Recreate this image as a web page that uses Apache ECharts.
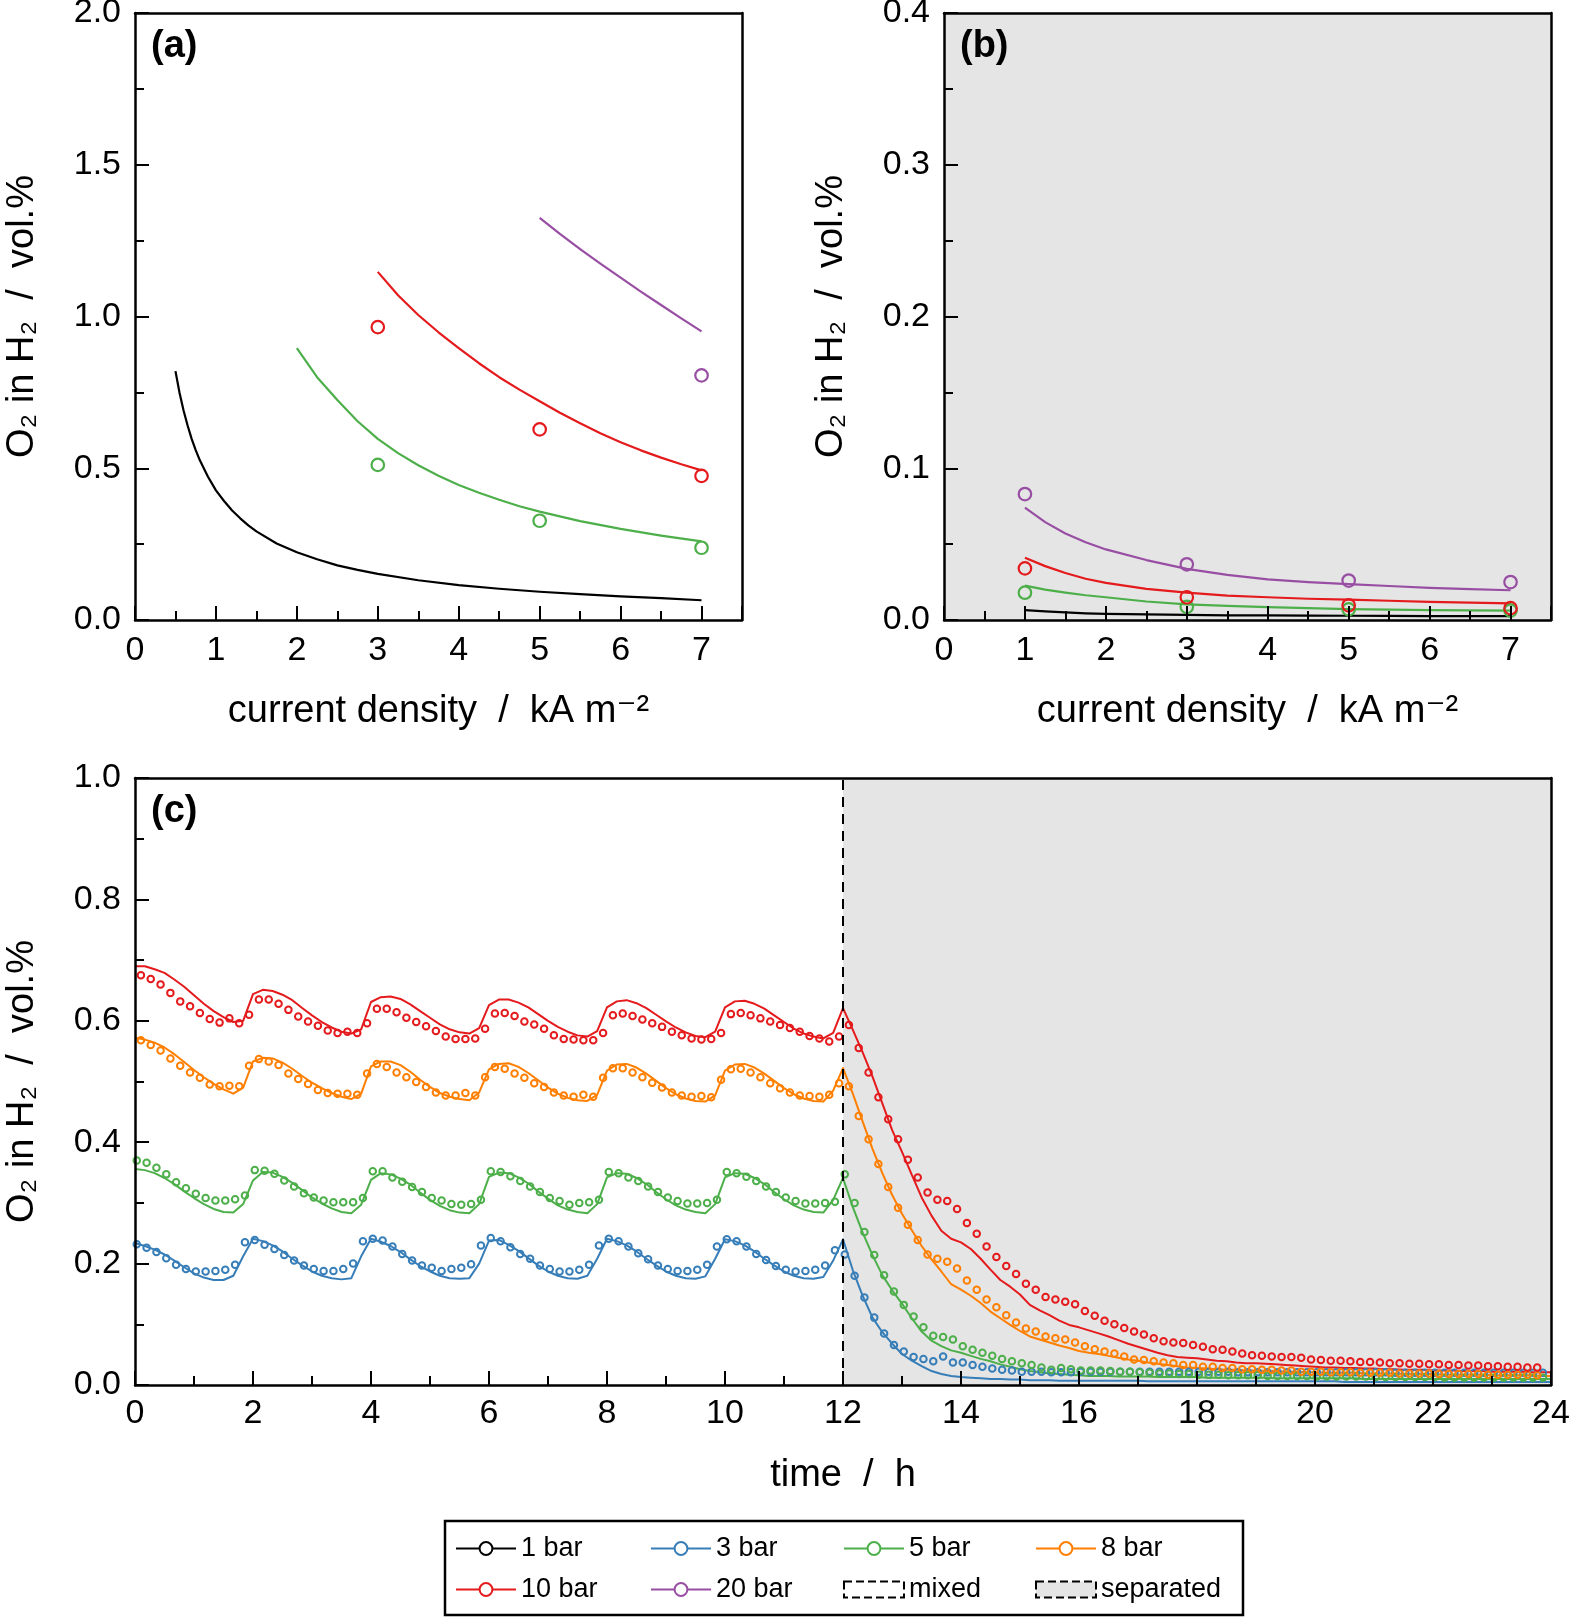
<!DOCTYPE html>
<html>
<head>
<meta charset="utf-8">
<script src="https://cdn.jsdelivr.net/npm/echarts/dist/echarts.min.js"></script>
<style>
  html, body { margin: 0; padding: 0; background: #fff; }
  #main { width: 1570px; height: 1618px; }
</style>
</head>
<body>
<div id="main"></div>
<script>
// colours per pressure
var C1 = '#000000', C3 = '#377eb8', C5 = '#4daf4a', C8 = '#ff7f00', C10 = '#e41a1c', C20 = '#984ea3';
var SHADE = '#e5e5e5';
var FONT = "'Liberation Sans', 'DejaVu Sans', Arial, sans-serif";

// ---- (a) mixed mode, O2 in H2 vs current density ----
var simAx1 = [0.5, 0.55, 0.6, 0.65, 0.7, 0.75, 0.8, 0.9, 1, 1.1, 1.2, 1.3, 1.4, 1.5, 1.75, 2, 2.25, 2.5, 2.75, 3, 3.5, 4, 4.5, 5, 5.5, 6, 6.5, 7];
var simA1 = [0.820, 0.749, 0.690, 0.641, 0.597, 0.560, 0.527, 0.473, 0.427, 0.392, 0.361, 0.335, 0.312, 0.292, 0.252, 0.223, 0.200, 0.180, 0.165, 0.152, 0.131, 0.115, 0.103, 0.093, 0.085, 0.078, 0.072, 0.065];
var simAx5 = [2, 2.25, 2.5, 2.75, 3, 3.25, 3.5, 3.75, 4, 4.25, 4.5, 4.75, 5, 5.5, 6, 6.5, 7];
var simA5 = [0.896, 0.800, 0.725, 0.655, 0.597, 0.550, 0.510, 0.475, 0.445, 0.419, 0.396, 0.375, 0.357, 0.326, 0.300, 0.278, 0.259];
var simAx10 = [3, 3.25, 3.5, 3.75, 4, 4.25, 4.5, 4.75, 5, 5.25, 5.5, 5.75, 6, 6.25, 6.5, 6.75, 7];
var simA10 = [1.147, 1.070, 1.005, 0.948, 0.896, 0.846, 0.800, 0.759, 0.721, 0.683, 0.648, 0.615, 0.586, 0.559, 0.535, 0.513, 0.493];
var simAx20 = [5, 5.25, 5.5, 5.75, 6, 6.25, 6.5, 6.75, 7];
var simA20 = [1.325, 1.272, 1.222, 1.174, 1.128, 1.082, 1.038, 0.994, 0.951];
var expAx = [3, 5, 7];
var expA5 = [0.511, 0.327, 0.238];
var expA10 = [0.965, 0.628, 0.475];
var expAx20 = [7];
var expA20 = [0.806];

// ---- (b) separated mode ----
var simBx = [1, 1.25, 1.5, 1.75, 2, 2.5, 3, 3.5, 4, 4.5, 5, 5.5, 6, 6.5, 7];
var simB1 = [0.0065, 0.0057, 0.0050, 0.0044, 0.0040, 0.0037, 0.0034, 0.0031, 0.0030, 0.0029, 0.0028, 0.0027, 0.0026, 0.0025, 0.0025];
var simB5 = [0.0227, 0.0200, 0.0180, 0.0163, 0.0150, 0.0122, 0.0103, 0.0093, 0.0085, 0.0078, 0.0072, 0.0068, 0.0065, 0.0063, 0.0062];
var simB10 = [0.0410, 0.0355, 0.0310, 0.0272, 0.0245, 0.0205, 0.0180, 0.0160, 0.0150, 0.0140, 0.0134, 0.0127, 0.0120, 0.0115, 0.0110];
var simB20 = [0.0741, 0.0645, 0.0570, 0.0512, 0.0465, 0.0395, 0.0337, 0.0297, 0.0268, 0.0250, 0.0237, 0.0224, 0.0212, 0.0204, 0.0196];
var expBx = [1, 3, 5, 7];
var expB5 = [0.0180, 0.0087, 0.0070, 0.0062];
var expB10 = [0.0340, 0.0150, 0.0097, 0.0078];
var expB20 = [0.0830, 0.0367, 0.0260, 0.0250];

// ---- (c) time series, one value every 10 min ----
var STEP = 1 / 6;
var simStart = 0;
var simC10 = [
  0.690, 0.690, 0.685, 0.679, 0.668, 0.656, 0.642, 0.628, 0.616, 0.606, 0.598, 0.600,
  0.644, 0.651, 0.649, 0.643, 0.634, 0.621, 0.609, 0.598, 0.589, 0.582, 0.579, 0.586,
  0.631, 0.639, 0.640, 0.636, 0.627, 0.616, 0.605, 0.594, 0.586, 0.581, 0.579, 0.588,
  0.626, 0.635, 0.635, 0.630, 0.622, 0.611, 0.600, 0.590, 0.582, 0.576, 0.574, 0.583,
  0.622, 0.632, 0.634, 0.629, 0.621, 0.610, 0.599, 0.589, 0.581, 0.575, 0.573, 0.582,
  0.622, 0.632, 0.633, 0.628, 0.620, 0.609, 0.598, 0.587, 0.579, 0.574, 0.571, 0.580,
  0.621, 0.585, 0.548, 0.508, 0.464, 0.420, 0.384, 0.346, 0.309, 0.279, 0.254, 0.241,
  0.235, 0.224, 0.208, 0.190, 0.173, 0.162, 0.149, 0.132, 0.123, 0.115, 0.106, 0.099,
  0.095, 0.090, 0.085, 0.080, 0.074, 0.068, 0.063, 0.058, 0.053, 0.049, 0.046, 0.045,
  0.044, 0.042, 0.040, 0.039, 0.037, 0.036, 0.036, 0.035, 0.034, 0.033, 0.032, 0.031,
  0.030, 0.029, 0.029, 0.028, 0.028, 0.027, 0.027, 0.026, 0.026, 0.025, 0.025, 0.025,
  0.024, 0.024, 0.024, 0.023, 0.023, 0.023, 0.022, 0.022, 0.022, 0.022, 0.021, 0.021,
  0.021
];
var simC8 = [
  0.572, 0.569, 0.564, 0.556, 0.545, 0.532, 0.519, 0.507, 0.496, 0.487, 0.480, 0.490,
  0.533, 0.539, 0.538, 0.531, 0.521, 0.509, 0.498, 0.489, 0.481, 0.475, 0.471, 0.480,
  0.525, 0.533, 0.533, 0.527, 0.516, 0.503, 0.491, 0.481, 0.475, 0.471, 0.469, 0.482,
  0.520, 0.529, 0.530, 0.524, 0.514, 0.502, 0.490, 0.480, 0.473, 0.469, 0.468, 0.478,
  0.518, 0.528, 0.529, 0.523, 0.513, 0.501, 0.489, 0.479, 0.472, 0.468, 0.467, 0.477,
  0.518, 0.528, 0.529, 0.523, 0.513, 0.501, 0.489, 0.479, 0.472, 0.468, 0.467, 0.485,
  0.522, 0.480, 0.434, 0.389, 0.349, 0.313, 0.282, 0.255, 0.229, 0.207, 0.187, 0.166,
  0.157, 0.147, 0.135, 0.121, 0.110, 0.099, 0.089, 0.080, 0.075, 0.070, 0.065, 0.061,
  0.056, 0.053, 0.051, 0.048, 0.045, 0.042, 0.040, 0.037, 0.035, 0.033, 0.031, 0.029,
  0.028, 0.027, 0.026, 0.025, 0.025, 0.024, 0.024, 0.023, 0.023, 0.022, 0.022, 0.021,
  0.021, 0.020, 0.020, 0.020, 0.020, 0.019, 0.019, 0.019, 0.019, 0.018, 0.018, 0.018,
  0.018, 0.017, 0.017, 0.017, 0.017, 0.017, 0.016, 0.016, 0.016, 0.016, 0.016, 0.015,
  0.015
];
var simC5 = [
  0.356, 0.354, 0.349, 0.341, 0.331, 0.319, 0.308, 0.298, 0.290, 0.285, 0.284, 0.298,
  0.337, 0.351, 0.350, 0.343, 0.333, 0.321, 0.309, 0.299, 0.291, 0.285, 0.283, 0.297,
  0.338, 0.349, 0.347, 0.340, 0.330, 0.317, 0.305, 0.295, 0.288, 0.284, 0.283, 0.298,
  0.343, 0.350, 0.349, 0.342, 0.332, 0.319, 0.307, 0.296, 0.289, 0.285, 0.283, 0.298,
  0.342, 0.349, 0.348, 0.341, 0.331, 0.318, 0.306, 0.296, 0.289, 0.285, 0.283, 0.298,
  0.342, 0.349, 0.348, 0.341, 0.331, 0.318, 0.306, 0.296, 0.289, 0.285, 0.284, 0.305,
  0.341, 0.293, 0.251, 0.214, 0.181, 0.156, 0.134, 0.110, 0.088, 0.073, 0.064, 0.057,
  0.053, 0.048, 0.043, 0.039, 0.034, 0.030, 0.026, 0.023, 0.021, 0.019, 0.018, 0.017,
  0.016, 0.015, 0.015, 0.015, 0.014, 0.014, 0.014, 0.014, 0.013, 0.013, 0.013, 0.013,
  0.013, 0.012, 0.012, 0.012, 0.012, 0.012, 0.012, 0.012, 0.011, 0.011, 0.011, 0.011,
  0.011, 0.011, 0.011, 0.011, 0.011, 0.010, 0.010, 0.010, 0.010, 0.010, 0.010, 0.010,
  0.010, 0.010, 0.010, 0.010, 0.010, 0.010, 0.010, 0.010, 0.010, 0.010, 0.010, 0.010,
  0.010
];
var simC3 = [
  0.234, 0.229, 0.223, 0.215, 0.205, 0.194, 0.184, 0.177, 0.173, 0.173, 0.180, 0.212,
  0.241, 0.237, 0.230, 0.220, 0.208, 0.197, 0.187, 0.180, 0.176, 0.174, 0.176, 0.212,
  0.241, 0.236, 0.229, 0.219, 0.207, 0.196, 0.187, 0.180, 0.176, 0.175, 0.176, 0.200,
  0.238, 0.239, 0.231, 0.221, 0.209, 0.197, 0.187, 0.180, 0.176, 0.175, 0.180, 0.208,
  0.241, 0.237, 0.230, 0.220, 0.208, 0.197, 0.187, 0.180, 0.176, 0.175, 0.179, 0.208,
  0.240, 0.237, 0.230, 0.220, 0.208, 0.197, 0.187, 0.180, 0.176, 0.175, 0.178, 0.205,
  0.240, 0.189, 0.147, 0.111, 0.087, 0.068, 0.051, 0.040, 0.031, 0.023, 0.018, 0.015,
  0.013, 0.012, 0.011, 0.010, 0.010, 0.009, 0.009, 0.008, 0.008, 0.008, 0.007, 0.007,
  0.007, 0.007, 0.007, 0.007, 0.007, 0.007, 0.007, 0.006, 0.006, 0.006, 0.006, 0.006,
  0.006, 0.006, 0.006, 0.006, 0.006, 0.006, 0.006, 0.006, 0.006, 0.006, 0.006, 0.006,
  0.006, 0.006, 0.006, 0.005, 0.005, 0.005, 0.005, 0.005, 0.005, 0.005, 0.005, 0.005,
  0.005, 0.005, 0.005, 0.005, 0.005, 0.005, 0.005, 0.005, 0.005, 0.005, 0.005, 0.005,
  0.005
];

// measured points; red/orange start at 0.1 h, green/blue at 0.03 h
var expStart10 = 0.1, expStart8 = 0.1, expStart5 = 0.03, expStart3 = 0.03;
var expC10 = [
  0.675, 0.669, 0.660, 0.646, 0.632, 0.624, 0.613, 0.603, 0.597, 0.604, 0.596, 0.610,
  0.635, 0.635, 0.628, 0.618, 0.607, 0.599, 0.592, 0.584, 0.580, 0.582, 0.580, 0.596,
  0.620, 0.620, 0.614, 0.605, 0.598, 0.591, 0.583, 0.574, 0.570, 0.570, 0.571, 0.587,
  0.612, 0.613, 0.608, 0.599, 0.594, 0.587, 0.576, 0.570, 0.569, 0.568, 0.568, 0.580,
  0.609, 0.612, 0.608, 0.602, 0.596, 0.590, 0.582, 0.576, 0.571, 0.569, 0.570, 0.580,
  0.611, 0.613, 0.609, 0.604, 0.599, 0.593, 0.588, 0.582, 0.575, 0.571, 0.566, 0.574,
  0.593, 0.555, 0.515, 0.474, 0.438, 0.405, 0.371, 0.342, 0.317, 0.305, 0.303, 0.290,
  0.267, 0.249, 0.228, 0.211, 0.196, 0.183, 0.167, 0.157, 0.145, 0.141, 0.137, 0.133,
  0.122, 0.114, 0.106, 0.100, 0.094, 0.088, 0.083, 0.077, 0.072, 0.070, 0.069, 0.066,
  0.063, 0.059, 0.058, 0.055, 0.052, 0.049, 0.048, 0.047, 0.046, 0.046, 0.045, 0.042,
  0.041, 0.040, 0.040, 0.039, 0.038, 0.038, 0.037, 0.036, 0.036, 0.035, 0.035, 0.034,
  0.034, 0.033, 0.033, 0.032, 0.032, 0.031, 0.031, 0.030, 0.030, 0.029, 0.029
];
var expC8 = [
  0.568, 0.560, 0.551, 0.538, 0.526, 0.515, 0.506, 0.495, 0.492, 0.493, 0.492, 0.526,
  0.537, 0.533, 0.527, 0.513, 0.504, 0.496, 0.486, 0.481, 0.480, 0.480, 0.478, 0.513,
  0.529, 0.524, 0.515, 0.507, 0.499, 0.491, 0.482, 0.477, 0.477, 0.481, 0.477, 0.507,
  0.524, 0.521, 0.513, 0.506, 0.497, 0.491, 0.482, 0.477, 0.475, 0.478, 0.475, 0.506,
  0.522, 0.522, 0.515, 0.507, 0.498, 0.490, 0.482, 0.477, 0.475, 0.476, 0.474, 0.503,
  0.520, 0.521, 0.515, 0.507, 0.497, 0.489, 0.482, 0.477, 0.476, 0.475, 0.478, 0.497,
  0.492, 0.443, 0.405, 0.364, 0.326, 0.292, 0.264, 0.239, 0.215, 0.208, 0.203, 0.192,
  0.172, 0.157, 0.141, 0.128, 0.115, 0.103, 0.093, 0.088, 0.080, 0.077, 0.075, 0.070,
  0.064, 0.059, 0.055, 0.052, 0.047, 0.042, 0.041, 0.039, 0.037, 0.036, 0.033, 0.033,
  0.030, 0.030, 0.028, 0.028, 0.026, 0.026, 0.025, 0.025, 0.024, 0.024, 0.022, 0.022,
  0.022, 0.021, 0.021, 0.021, 0.020, 0.020, 0.020, 0.020, 0.019, 0.019, 0.019, 0.019,
  0.018, 0.018, 0.018, 0.018, 0.018, 0.017, 0.017, 0.017, 0.017, 0.017, 0.016
];
var expC5 = [
  0.370, 0.366, 0.358, 0.347, 0.334, 0.324, 0.315, 0.308, 0.304, 0.304, 0.306, 0.312,
  0.354, 0.353, 0.348, 0.337, 0.327, 0.316, 0.309, 0.304, 0.301, 0.301, 0.301, 0.308,
  0.352, 0.352, 0.342, 0.335, 0.326, 0.318, 0.308, 0.304, 0.298, 0.297, 0.298, 0.305,
  0.352, 0.351, 0.344, 0.336, 0.327, 0.318, 0.308, 0.303, 0.297, 0.300, 0.301, 0.305,
  0.351, 0.349, 0.342, 0.336, 0.327, 0.318, 0.309, 0.303, 0.299, 0.299, 0.300, 0.305,
  0.351, 0.349, 0.343, 0.336, 0.327, 0.318, 0.309, 0.303, 0.299, 0.299, 0.300, 0.302,
  0.347, 0.300, 0.252, 0.214, 0.181, 0.154, 0.132, 0.113, 0.095, 0.081, 0.079, 0.075,
  0.064, 0.058, 0.053, 0.048, 0.043, 0.039, 0.036, 0.033, 0.029, 0.025, 0.028, 0.026,
  0.024, 0.024, 0.024, 0.023, 0.022, 0.022, 0.021, 0.020, 0.019, 0.019, 0.018, 0.018,
  0.017, 0.017, 0.017, 0.016, 0.016, 0.016, 0.016, 0.015, 0.015, 0.015, 0.015, 0.015,
  0.014, 0.014, 0.014, 0.014, 0.014, 0.014, 0.013, 0.013, 0.013, 0.013, 0.013, 0.013,
  0.013, 0.012, 0.012, 0.012, 0.012, 0.012, 0.012, 0.012, 0.012, 0.012, 0.012, 0.012
];
var expC3 = [
  0.232, 0.226, 0.219, 0.209, 0.198, 0.191, 0.187, 0.187, 0.188, 0.190, 0.198, 0.235,
  0.239, 0.231, 0.224, 0.214, 0.205, 0.197, 0.191, 0.188, 0.188, 0.191, 0.200, 0.237,
  0.241, 0.238, 0.228, 0.216, 0.205, 0.197, 0.193, 0.188, 0.191, 0.193, 0.199, 0.230,
  0.242, 0.237, 0.227, 0.216, 0.208, 0.197, 0.191, 0.187, 0.187, 0.190, 0.198, 0.230,
  0.241, 0.237, 0.228, 0.217, 0.207, 0.197, 0.191, 0.188, 0.188, 0.190, 0.198, 0.228,
  0.240, 0.237, 0.228, 0.216, 0.206, 0.196, 0.190, 0.187, 0.188, 0.190, 0.197, 0.222,
  0.215, 0.180, 0.144, 0.111, 0.085, 0.066, 0.055, 0.046, 0.043, 0.039, 0.047, 0.037,
  0.037, 0.033, 0.030, 0.027, 0.025, 0.024, 0.022, 0.022, 0.022, 0.021, 0.021, 0.021,
  0.022, 0.022, 0.022, 0.022, 0.022, 0.022, 0.022, 0.022, 0.022, 0.022, 0.022, 0.022,
  0.022, 0.022, 0.022, 0.022, 0.021, 0.021, 0.021, 0.021, 0.021, 0.021, 0.021, 0.021,
  0.021, 0.021, 0.021, 0.021, 0.021, 0.021, 0.021, 0.021, 0.020, 0.020, 0.020, 0.020,
  0.020, 0.020, 0.020, 0.020, 0.020, 0.020, 0.020, 0.020, 0.020, 0.020, 0.020, 0.020
];

var legendCols = [['1 bar', '10 bar'], ['3 bar', '20 bar'], ['5 bar', 'mixed'], ['8 bar', 'separated']];
var legendColors = { '1 bar': C1, '3 bar': C3, '5 bar': C5, '8 bar': C8, '10 bar': C10, '20 bar': C20 };

function pairs(xs, ys) {
  return xs.map(function (x, i) { return [x, ys[i]]; });
}
function timed(values, start) {
  return values.map(function (v, i) { return [start + i * STEP, v]; });
}

var axisLineStyle = { color: '#000', width: 2.5 };
var tickStyle = { color: '#000', width: 2 };
var tickLabel = { color: '#000', fontSize: 34, fontFamily: FONT };
var nameStyle = { color: '#000', fontSize: 38, fontFamily: FONT };
var yTitle = 'O\u2082 in H\u2082  /  vol.%';
var xTitle = 'current density  /  kA m\u207b\u00b2';

function mainX(grid, max, interval, name, extra) {
  return Object.assign({
    type: 'value', gridIndex: grid, position: 'bottom', min: 0, max: max, interval: interval, z: 5,
    axisLine: { onZero: false, lineStyle: axisLineStyle },
    axisTick: { inside: true, length: 14, lineStyle: tickStyle },
    axisLabel: Object.assign({ margin: 14, formatter: function (v) { return Number.isInteger(v) ? String(v) : ''; } }, tickLabel),
    splitLine: { show: false },
    name: name, nameLocation: 'middle', nameGap: 73, nameTextStyle: nameStyle
  }, extra || {});
}
function minorX(grid, max, interval) {
  return {
    type: 'value', gridIndex: grid, position: 'bottom', min: 0, max: max, interval: interval, z: 5,
    axisLine: { show: false }, axisTick: { inside: true, length: 9, lineStyle: tickStyle },
    axisLabel: { show: false }, splitLine: { show: false }
  };
}
function frameAxis(grid, pos, max) {
  return {
    type: 'value', gridIndex: grid, position: pos, min: 0, max: max, z: 5,
    axisLine: { onZero: false, lineStyle: axisLineStyle }, axisTick: { show: false },
    axisLabel: { show: false }, splitLine: { show: false }
  };
}
function mainY(grid, max, interval) {
  return {
    type: 'value', gridIndex: grid, position: 'left', min: 0, max: max, interval: interval, z: 5,
    axisLine: { onZero: false, lineStyle: axisLineStyle },
    axisTick: { inside: true, length: 14, lineStyle: tickStyle },
    minorTick: { show: true, splitNumber: 2, length: 9, lineStyle: tickStyle },
    axisLabel: Object.assign({ margin: 14, formatter: function (v) { return v.toFixed(1); } }, tickLabel),
    splitLine: { show: false },
    name: yTitle, nameLocation: 'middle', nameRotate: 90, nameGap: 93, nameTextStyle: nameStyle
  };
}

function simLine(xi, yi, data, color, width) {
  return {
    type: 'line', xAxisIndex: xi, yAxisIndex: yi, data: data, symbol: 'none',
    smooth: false, silent: true, z: 2,
    lineStyle: { color: color, width: width, join: 'round' }, itemStyle: { color: color }
  };
}
function expPoints(xi, yi, data, color, size, bw) {
  return {
    type: 'scatter', xAxisIndex: xi, yAxisIndex: yi, data: data, symbol: 'circle', symbolSize: size,
    silent: true, z: 3,
    itemStyle: { color: 'rgba(0,0,0,0)', borderColor: color, borderWidth: bw, opacity: 1 }
  };
}

var series = [];
// legend-only entries
Object.keys(legendColors).forEach(function (name) {
  var c = legendColors[name];
  series.push({ name: name, type: 'line', data: [], symbol: 'emptyCircle', symbolSize: 12,
    itemStyle: { color: c }, lineStyle: { color: c, width: 2 } });
});
series.push({ name: 'mixed', type: 'line', data: [] });
series.push({ name: 'separated', type: 'line', data: [] });

// (a)  xAxis 0..2, yAxis 0..1
series.push(simLine(0, 0, pairs(simAx1, simA1), C1, 2.2));
series.push(simLine(0, 0, pairs(simAx5, simA5), C5, 2.2));
series.push(simLine(0, 0, pairs(simAx10, simA10), C10, 2.2));
series.push(simLine(0, 0, pairs(simAx20, simA20), C20, 2.2));
series.push(expPoints(0, 0, pairs(expAx, expA5), C5, 12.5, 2.2));
series.push(expPoints(0, 0, pairs(expAx, expA10), C10, 12.5, 2.2));
series.push(expPoints(0, 0, pairs(expAx20, expA20), C20, 12.5, 2.2));

// (b)  xAxis 3..5, yAxis 2..3
series.push(simLine(3, 2, pairs(simBx, simB1), C1, 2.2));
series.push(simLine(3, 2, pairs(simBx, simB5), C5, 2.2));
series.push(simLine(3, 2, pairs(simBx, simB10), C10, 2.2));
series.push(simLine(3, 2, pairs(simBx, simB20), C20, 2.2));
series.push(expPoints(3, 2, pairs(expBx, expB5), C5, 12.5, 2.2));
series.push(expPoints(3, 2, pairs(expBx, expB10), C10, 12.5, 2.2));
series.push(expPoints(3, 2, pairs(expBx, expB20), C20, 12.5, 2.2));

// (c)  xAxis 6..7, yAxis 4..5
var blueLine = simLine(6, 4, timed(simC3, simStart), C3, 2);
blueLine.markArea = {
  silent: true, itemStyle: { color: SHADE },
  data: [[{ xAxis: 12 }, { xAxis: 24 }]]
};
blueLine.markLine = {
  silent: true, symbol: ['none', 'none'], label: { show: false },
  lineStyle: { color: '#000', width: 2, type: [10, 7] },
  data: [{ xAxis: 12 }]
};
series.push(blueLine);
series.push(expPoints(6, 4, timed(expC3, expStart3), C3, 6.5, 2));
series.push(simLine(6, 4, timed(simC5, simStart), C5, 2));
series.push(expPoints(6, 4, timed(expC5, expStart5), C5, 6.5, 2));
series.push(simLine(6, 4, timed(simC8, simStart), C8, 2));
series.push(expPoints(6, 4, timed(expC8, expStart8), C8, 6.5, 2));
series.push(simLine(6, 4, timed(simC10, simStart), C10, 2));
series.push(expPoints(6, 4, timed(expC10, expStart10), C10, 6.5, 2));

var legendLefts = [455, 650, 843, 1035];
var legends = legendCols.map(function (col, i) {
  return {
    left: legendLefts[i], top: 1535, orient: 'vertical', itemGap: 14, padding: 0,
    itemWidth: 60, itemHeight: 16, selectedMode: false,
    textStyle: { color: '#000', fontSize: 27, fontFamily: FONT },
    data: col.map(function (name) {
      if (name === 'mixed') {
        return { name: name, icon: 'rect', itemStyle: { color: '#fff', borderColor: '#000', borderWidth: 2, borderType: 'dashed' } };
      }
      if (name === 'separated') {
        return { name: name, icon: 'rect', itemStyle: { color: SHADE, borderColor: '#000', borderWidth: 2, borderType: 'dashed' } };
      }
      return name;
    })
  };
});

function panelTitle(text, left, top) {
  return { text: text, left: left, top: top, padding: 0,
    textStyle: { color: '#000', fontSize: 38, fontWeight: 'bold', fontFamily: FONT } };
}

var chart = echarts.init(document.getElementById('main'));
var option = {
  animation: false,
  backgroundColor: '#fff',
  textStyle: { fontFamily: FONT },
  title: [panelTitle('(a)', 151, 28), panelTitle('(b)', 960, 28), panelTitle('(c)', 151, 793)],
  grid: [
    { left: 135, top: 13, width: 607, height: 607, outerBoundsMode: 'none' },
    { left: 944, top: 13, width: 607, height: 607, outerBoundsMode: 'none',
      show: true, backgroundColor: SHADE, borderWidth: 0 },
    { left: 135, top: 778, width: 1416, height: 607, outerBoundsMode: 'none' }
  ],
  xAxis: [
    mainX(0, 7.5, 1, xTitle), minorX(0, 7.5, 0.5), frameAxis(0, 'top', 7.5),
    mainX(1, 7.5, 1, xTitle), minorX(1, 7.5, 0.5), frameAxis(1, 'top', 7.5),
    mainX(2, 24, 2, 'time  /  h', {
      nameGap: 72,
      axisLabel: Object.assign({ margin: 12 }, tickLabel),
      minorTick: { show: true, splitNumber: 2, length: 9, lineStyle: tickStyle }
    }),
    frameAxis(2, 'top', 24)
  ],
  yAxis: [
    mainY(0, 2.0, 0.5), frameAxis(0, 'right', 2.0),
    mainY(1, 0.4, 0.1), frameAxis(1, 'right', 0.4),
    mainY(2, 1.0, 0.2), frameAxis(2, 'right', 1.0)
  ],
  legend: legends,
  graphic: [{
    type: 'rect', shape: { x: 445, y: 1521, width: 798, height: 94 },
    style: { fill: 'none', stroke: '#000', lineWidth: 2.5 }, silent: true
  }],
  series: series
};
chart.setOption(option);
</script>
</body>
</html>
